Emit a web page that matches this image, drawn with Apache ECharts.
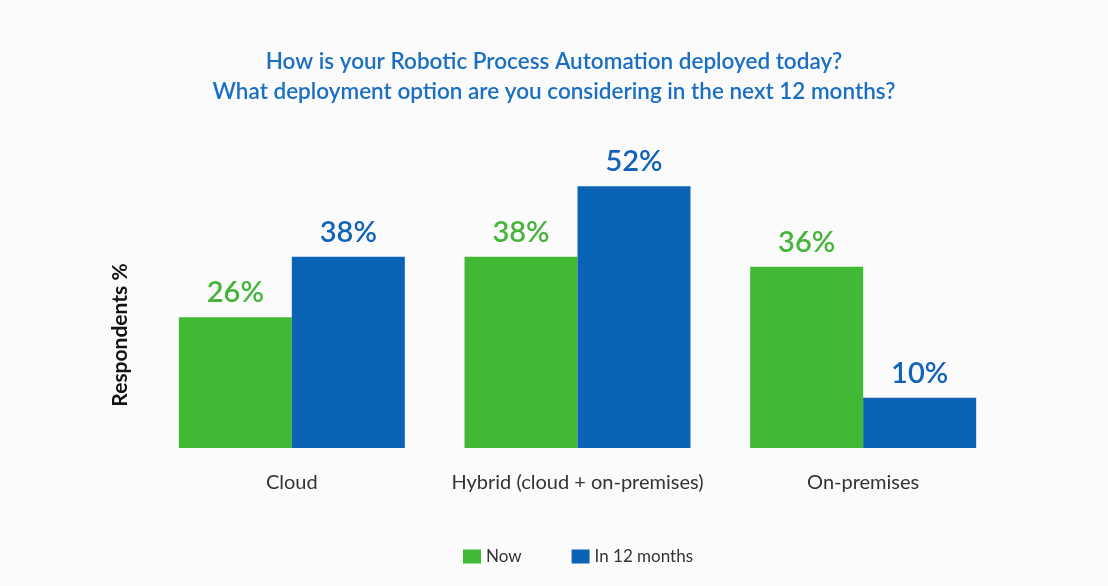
<!DOCTYPE html>
<html><head><meta charset="utf-8">
<script src="https://cdn.jsdelivr.net/npm/echarts@6/dist/echarts.min.js"></script>
<style>html,body{margin:0;padding:0;background:#fbfbfb;}#c{width:1108px;height:586px;}</style>
</head><body><div id="c"></div>
<script>
const categories = ['Cloud', 'Hybrid (cloud + on-premises)', 'On-premises'];
const nowValues = [26, 38, 36];
const in12Values = [38, 52, 10];
const seriesNames = ['Now', 'In 12 months'];

const chart = echarts.init(document.getElementById('c'));
const labelFont = 'Lato, "Open Sans", sans-serif';
chart.setOption({
  backgroundColor: '#fbfbfb',
  animation: false,
  title: {
    text: 'How is your Robotic Process Automation deployed today?\nWhat deployment option are you considering in the next 12 months?',
    left: 'center', top: 42,
    textStyle: { color: '#1a6fc4', fontSize: 22.5, fontWeight: 600, lineHeight: 30, fontFamily: labelFont }
  },
  legend: {
    top: 543, left: 458, itemWidth: 18, itemHeight: 14, itemGap: 50,
    icon: 'rect',
    textStyle: { color: '#333', fontSize: 17, fontFamily: labelFont }
  },
  graphic: [{
    type: 'text', x: 120, y: 335, rotation: Math.PI / 2,
    style: { text: 'Respondents %', fill: '#111', fontSize: 21, fontWeight: 'bold', fontFamily: labelFont, textAlign: 'center', textVerticalAlign: 'middle' }
  }],
  grid: { left: 149, right: 102, top: 146, bottom: 138 },
  xAxis: {
    type: 'category', data: categories,
    axisLine: { show: false }, axisTick: { show: false },
    axisLabel: { color: '#333', fontSize: 20, margin: 25, interval: 0, hideOverlap: false, fontFamily: labelFont }
  },
  yAxis: { type: 'value', min: 0, max: 60, show: false, splitLine: { show: false } },
  series: [
    { name: seriesNames[0], type: 'bar', data: nowValues, barWidth: 113, barGap: '0%',
      itemStyle: { color: '#41b935' },
      label: { show: true, position: 'top', distance: 10, formatter: '{c}%', color: '#44b53a', fontSize: 29, fontWeight: 600, fontFamily: labelFont } },
    { name: seriesNames[1], type: 'bar', data: in12Values, barWidth: 113,
      itemStyle: { color: '#0b63b6' },
      label: { show: true, position: 'top', distance: 10, formatter: '{c}%', color: '#1262b8', fontSize: 29, fontWeight: 600, fontFamily: labelFont } }
  ]
});
</script></body></html>
